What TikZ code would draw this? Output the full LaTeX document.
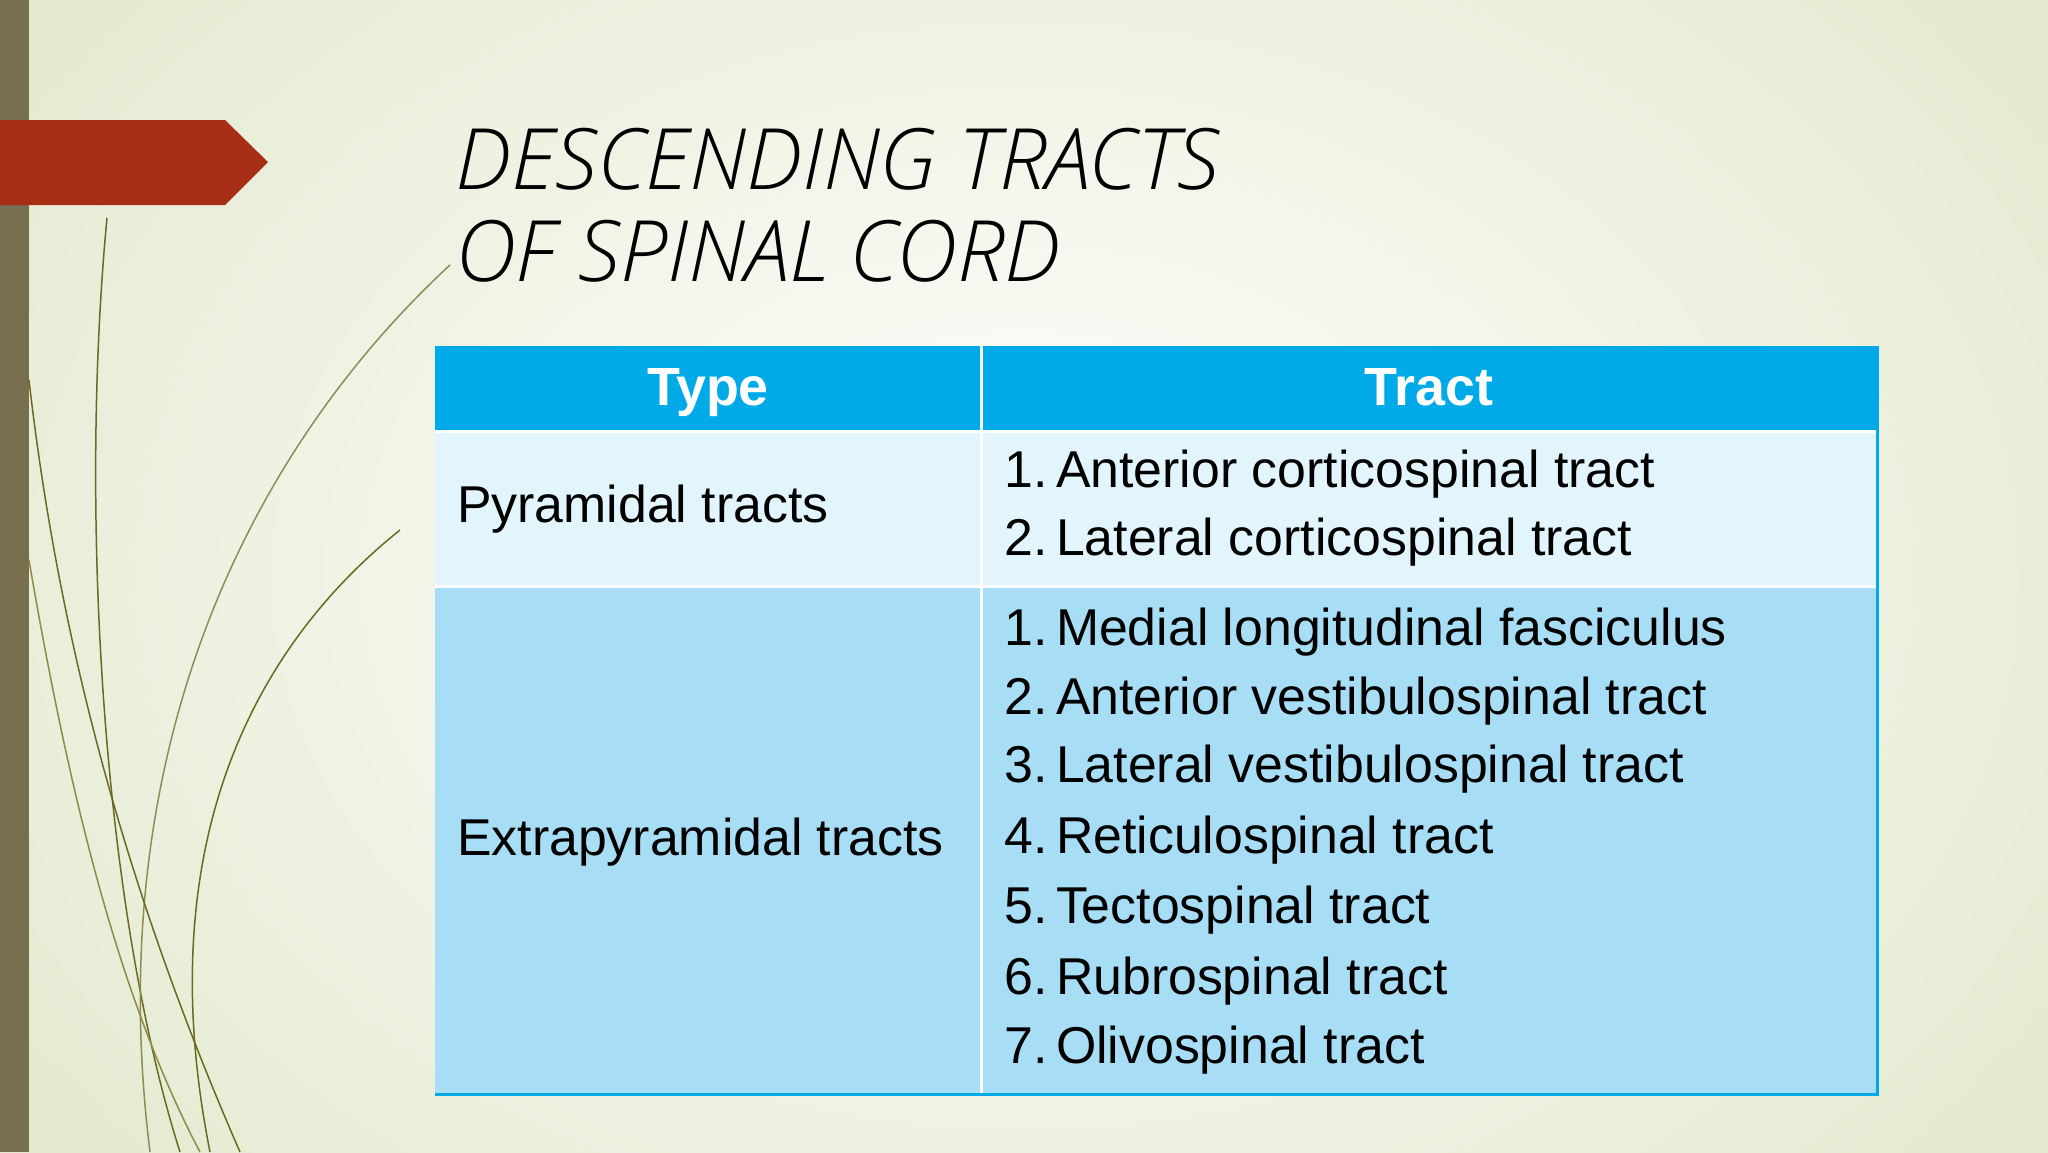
\documentclass[tikz,border=0pt]{standalone}
\usepackage{fontspec}
\setmainfont{Liberation Sans}
\newfontfamily\titlefont{Open Sans Light}
\definecolor{bgout}{RGB}{226,233,205}
\definecolor{barc}{RGB}{120,110,80}
\definecolor{redc}{RGB}{166,46,20}
\definecolor{headc}{RGB}{0,170,232}
\definecolor{row1}{RGB}{226,245,252}
\definecolor{row2}{RGB}{168,222,245}
\begin{document}
\begin{tikzpicture}[x=1bp,y=-1bp,
  cell/.style={font=\fontsize{52}{60}\selectfont, anchor=west, inner sep=0},
  head/.style={font=\fontsize{54}{60}\selectfont\bfseries, text=white, inner sep=0, text height=38bp, text depth=10bp},
  grass/.style={draw=olive!70!black, line width=1.5bp}]
\useasboundingbox (0,0) rectangle (2048,1152);
\fill[inner color=white, outer color=bgout] (-300,-400) rectangle (2348,1552);
\fill[barc] (0,0) rectangle (29,1152);
\fill[redc] (0,120) -- (225,120) -- (268,162) -- (225,205) -- (0,205) -- cycle;
% grass
\draw[grass] (107,218) .. controls (80,500) and (100,900) .. (180,1152);
\draw[grass] (400,530) .. controls (250,650) and (150,850) .. (210,1152);
\draw[grass, draw=olive!40!gray] (450,265) .. controls (250,450) and (100,750) .. (150,1152);
\draw[grass] (29,380) .. controls (60,650) and (130,900) .. (240,1152);
\draw[grass, draw=olive!50!gray] (29,560) .. controls (70,800) and (120,1000) .. (200,1152);
\node[anchor=west, inner sep=0, font=\titlefont\itshape\fontsize{85}{90}\selectfont] (t1) at (455,159) {DESCENDING TRACTS};
\node[anchor=west, inner sep=0, font=\titlefont\itshape\fontsize{85}{90}\selectfont] (t2) at (455,251) {OF SPINAL CORD};
% table
\fill[headc] (435,346) rectangle (1877,431);
\fill[row1] (435,431) rectangle (1877,586);
\fill[row2] (435,586) rectangle (1877,1094);
\draw[white, line width=3bp] (981,346) -- (981,1094);
\draw[white, line width=3bp] (435,431) -- (1877,431) (435,586) -- (1877,586);
\draw[headc, line width=3bp] (1877,346) -- (1877,1094) -- (435,1094);
\node[head] (h1) at (708,391) {Type};
\node[head] (h2) at (1429,391) {Tract};
\node[cell] (p) at (457,509) {Pyramidal tracts};
\node[cell] (e) at (457,842) {Extrapyramidal tracts};
\node[cell] (a1) at (1004,474) {1.\,Anterior corticospinal tract};
\node[cell] (a2) at (1004,542) {2.\,Lateral corticospinal tract};
\node[cell] (b1) at (1004,632) {1.\,Medial longitudinal fasciculus};
\node[cell] (b2) at (1004,701) {2.\,Anterior vestibulospinal tract};
\node[cell] (b3) at (1004,769) {3.\,Lateral vestibulospinal tract};
\node[cell] (b4) at (1004,840) {4.\,Reticulospinal tract};
\node[cell] (b5) at (1004,910) {5.\,Tectospinal tract};
\node[cell] (b6) at (1004,981) {6.\,Rubrospinal tract};
\node[cell] (b7) at (1004,1050) {7.\,Olivospinal tract};
\end{tikzpicture}
\end{document}
